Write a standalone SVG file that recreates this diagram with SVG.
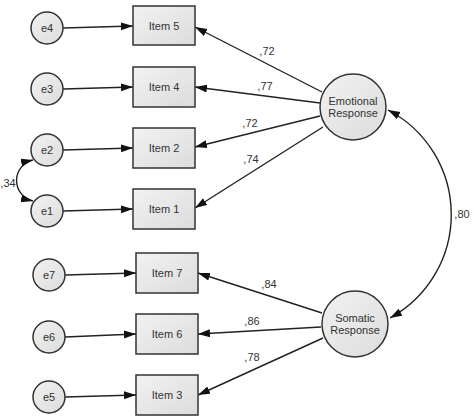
<svg xmlns="http://www.w3.org/2000/svg" width="474" height="420" viewBox="0 0 474 420">
<style>
text{font-family:"Liberation Sans",Arial,sans-serif;font-size:11px;fill:#333}
.n{stroke:#333;stroke-width:1.5}
.c{stroke:#222;stroke-width:1.4;fill:none}
.lbl{text-anchor:middle}
</style>
<defs>
<linearGradient id="g" x1="0" y1="0" x2="1" y2="1">
<stop offset="0" stop-color="#f2f2f2"/>
<stop offset="1" stop-color="#dcdcdc"/>
</linearGradient>
<marker id="a" markerUnits="userSpaceOnUse" markerWidth="13" markerHeight="9" refX="12" refY="4" orient="auto-start-reverse">
<path d="M0,0 L12,4 L0,8 z" fill="#111"/>
</marker>
</defs>
<rect width="474" height="420" fill="#fff"/>
<g id="connectors" class="c">
<line x1="63" y1="28" x2="133" y2="26" marker-end="url(#a)"/>
<line x1="63" y1="89" x2="133" y2="87" marker-end="url(#a)"/>
<line x1="63" y1="150" x2="133" y2="148" marker-end="url(#a)"/>
<line x1="63" y1="211" x2="133" y2="209" marker-end="url(#a)"/>
<line x1="65" y1="275" x2="136" y2="273" marker-end="url(#a)"/>
<line x1="65" y1="337" x2="136" y2="334" marker-end="url(#a)"/>
<line x1="65" y1="397" x2="136" y2="395" marker-end="url(#a)"/>
<line x1="322" y1="92" x2="195" y2="27" marker-end="url(#a)"/>
<line x1="320" y1="103" x2="195" y2="87" marker-end="url(#a)"/>
<line x1="320" y1="116" x2="195" y2="147" marker-end="url(#a)"/>
<line x1="323" y1="127" x2="195" y2="208" marker-end="url(#a)"/>
<line x1="322" y1="313" x2="198" y2="273" marker-end="url(#a)"/>
<line x1="321" y1="327" x2="198" y2="334" marker-end="url(#a)"/>
<line x1="323" y1="338" x2="198" y2="395" marker-end="url(#a)"/>
<path d="M388,110 A118,118 0 0 1 390,318" marker-start="url(#a)" marker-end="url(#a)"/>
<path d="M33,160 A21,21 0 0 0 33,201" marker-start="url(#a)" marker-end="url(#a)"/>
</g>
<g id="labels" class="lbl">
<text x="267" y="55">,72</text>
<text x="265" y="90">,77</text>
<text x="250" y="127">,72</text>
<text x="251" y="163">,74</text>
<text x="269" y="288">,84</text>
<text x="252" y="325">,86</text>
<text x="252" y="361">,78</text>
<text x="462" y="218">,80</text>
<text x="8" y="187">,34</text>
</g>
<g id="e4"><circle class="n" cx="47" cy="28" r="16" fill="url(#g)"/><text class="lbl" x="47" y="32">e4</text></g>
<g id="e3"><circle class="n" cx="47" cy="89" r="16" fill="url(#g)"/><text class="lbl" x="47" y="93">e3</text></g>
<g id="e2"><circle class="n" cx="47" cy="150" r="16" fill="url(#g)"/><text class="lbl" x="47" y="154">e2</text></g>
<g id="e1"><circle class="n" cx="47" cy="211" r="16" fill="url(#g)"/><text class="lbl" x="47" y="215">e1</text></g>
<g id="e7"><circle class="n" cx="49" cy="275" r="16" fill="url(#g)"/><text class="lbl" x="49" y="279">e7</text></g>
<g id="e6"><circle class="n" cx="49" cy="337" r="16" fill="url(#g)"/><text class="lbl" x="49" y="341">e6</text></g>
<g id="e5"><circle class="n" cx="49" cy="397" r="16" fill="url(#g)"/><text class="lbl" x="49" y="401">e5</text></g>
<g id="item5"><rect class="n" x="133" y="6" width="62" height="39" fill="url(#g)"/><text class="lbl" x="164" y="30">Item 5</text></g>
<g id="item4"><rect class="n" x="133" y="67" width="62" height="40" fill="url(#g)"/><text class="lbl" x="164" y="91">Item 4</text></g>
<g id="item2"><rect class="n" x="133" y="128" width="62" height="40" fill="url(#g)"/><text class="lbl" x="164" y="152">Item 2</text></g>
<g id="item1"><rect class="n" x="133" y="189" width="62" height="40" fill="url(#g)"/><text class="lbl" x="164" y="213">Item 1</text></g>
<g id="item7"><rect class="n" x="136" y="253" width="62" height="40" fill="url(#g)"/><text class="lbl" x="167" y="277">Item 7</text></g>
<g id="item6"><rect class="n" x="136" y="314" width="62" height="40" fill="url(#g)"/><text class="lbl" x="167" y="338">Item 6</text></g>
<g id="item3"><rect class="n" x="136" y="375" width="62" height="40" fill="url(#g)"/><text class="lbl" x="167" y="399">Item 3</text></g>
<g id="emotional"><circle class="n" cx="353" cy="107" r="33" fill="url(#g)"/><text class="lbl" x="353" y="105">Emotional</text><text class="lbl" x="353" y="117">Response</text></g>
<g id="somatic"><circle class="n" cx="355" cy="324" r="33" fill="url(#g)"/><text class="lbl" x="355" y="322">Somatic</text><text class="lbl" x="355" y="334">Response</text></g>
</svg>
